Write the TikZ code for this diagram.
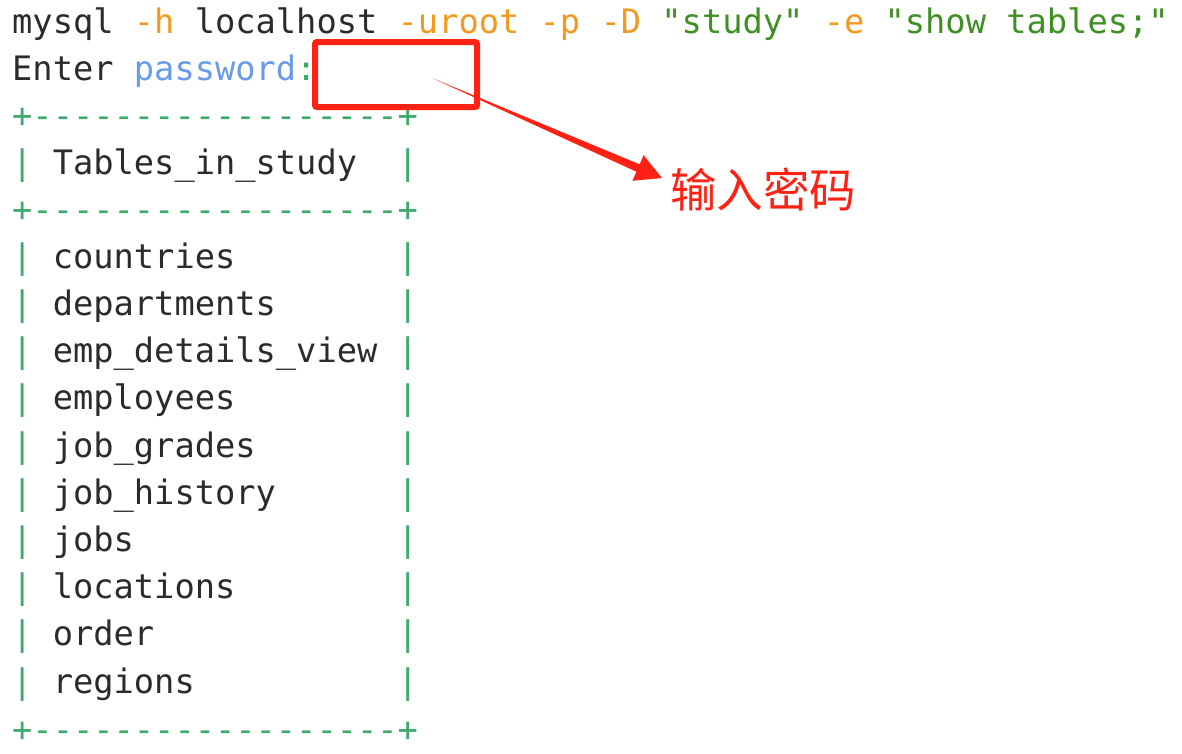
\documentclass[tikz,border=0pt]{standalone}
\usepackage{fontspec}
\setmonofont{DejaVu Sans Mono}
\newfontfamily\cjk{Noto Sans CJK SC}
\definecolor{txt}{HTML}{2B2B2B}
\definecolor{opt}{HTML}{F39A1E}
\definecolor{str}{HTML}{3F8F22}
\definecolor{kw}{HTML}{6A9BE8}
\definecolor{tb}{HTML}{3BAA6B}
\definecolor{rd}{HTML}{FF2214}
\begin{document}
\begin{tikzpicture}[x=1pt,y=-1pt,
  ln/.style={anchor=base west,inner sep=0pt,font=\ttfamily\fontsize{33.7}{34}\selectfont,text=txt}]
\useasboundingbox (0,0) rectangle (1182,753);
\fill[white] (0,0) rectangle (1182,753);
\newcommand{\G}[1]{\textcolor{tb}{#1}}
\node[ln] (l1) at (12,33) {mysql \textcolor{opt}{-h} localhost \textcolor{opt}{-uroot -p -D} \textcolor{str}{"study"} \textcolor{opt}{-e} \textcolor{str}{"show tables;"}};
\node[ln] (l2) at (12,80) {Enter \textcolor{kw}{password}\G{:}};
\node[ln] (b1) at (12,127) {\G{+------------------+}};
\node[ln] (h) at (12,174) {\G{|} Tables\_in\_study \ \G{|}};
\node[ln] (b2) at (12,221) {\G{+------------------+}};
\foreach \t [count=\i] in {countries,departments,emp\_details\_view,employees,job\_grades,job\_history,jobs,locations,order,regions}{
  \node[ln] (r\i) at (12,221+47.2*\i) {\G{|} \makebox[16\fontcharwd\font`M][l]{\t} \G{|}};
}
\node[ln] (b3) at (12,741) {\G{+------------------+}};
\draw[rd,line width=6,rounded corners=2] (315,42) rectangle (477,107);
\fill[rd] (432,78) -- (639.6,164.3) -- (643.6,155.2) -- (662,178) -- (632.4,180.8) -- (636.4,171.7) -- cycle;
\node[anchor=west,inner sep=0pt,text=rd,font=\cjk\fontsize{46.5}{46}\selectfont] (lab) at (670,190) {输入密码};
\end{tikzpicture}
\end{document}
